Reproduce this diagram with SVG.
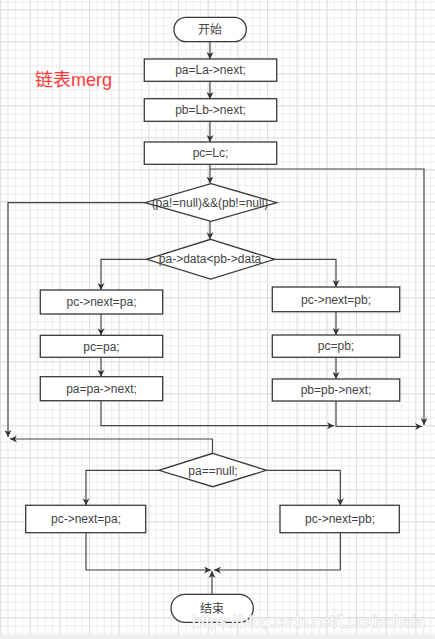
<svg xmlns="http://www.w3.org/2000/svg" width="435" height="639" viewBox="0 0 435 639">
<defs>
<pattern id="minor" x="0" y="1.3" width="7.417" height="8" patternUnits="userSpaceOnUse">
<path d="M0.5,0 V8 M0,0.5 H7.417" fill="none" stroke="#ececec" stroke-width="1"/>
</pattern>
<pattern id="major" x="0" y="9.3" width="29.67" height="32" patternUnits="userSpaceOnUse">
<path d="M0.5,0 V32 M0,0.5 H29.67" fill="none" stroke="#dedede" stroke-width="1"/>
</pattern>
<marker id="arr" viewBox="0 0 10 10" refX="10" refY="5" markerWidth="7" markerHeight="7" markerUnits="userSpaceOnUse" orient="auto">
<path d="M0,0 L10,5 L0,10 L3,5 z" fill="#333"/>
</marker>
<style>
.box{fill:#fff;stroke:#3a3a3a;stroke-width:1.3}
.t{font-family:"Liberation Sans","Noto Sans CJK SC",sans-serif;font-size:12px;fill:#444;text-anchor:middle}
.c{fill:none;stroke:#444;stroke-width:1.2;marker-end:url(#arr)}
</style>
</defs>
<rect width="435" height="639" fill="#fff"/>
<rect width="435" height="635" fill="url(#minor)"/>
<rect width="435" height="635" fill="url(#major)"/>
<rect y="635" width="435" height="4" fill="#f0f0f0"/>

<text x="35" y="86" font-family="'Liberation Sans','Noto Sans CJK SC',sans-serif" font-size="18" fill="#ff3b3b">链表merg</text>

<g id="connectors">
<path class="c" d="M210,42 V59"/>
<path class="c" d="M210,81 V99"/>
<path class="c" d="M210,121 V142"/>
<path class="c" d="M210,164 V183.5"/>
<path class="c" d="M210,169 H424 V425"/>
<path class="c" d="M210,221.3 V239.3"/>
<path class="c" d="M145.3,202.7 H8 V437"/>
<path class="c" d="M146.7,259.3 H101 V290"/>
<path class="c" d="M274.7,259.3 H336 V287"/>
<path class="c" d="M101,314 V335.3"/>
<path class="c" d="M101,357.3 V376.7"/>
<path class="c" d="M336,311.7 V335"/>
<path class="c" d="M336,357.3 V379"/>
<path class="c" d="M101,400.7 V425.7 H334"/>
<path class="c" d="M336,401 V426.5 H422"/>
<path class="c" d="M212.5,453.3 V439 H10"/>
<path class="c" d="M159,470.3 H86 V505.3"/>
<path class="c" d="M266.3,470.3 H340.3 V505.3"/>
<path class="c" d="M86,532.7 V570 H211"/>
<path class="c" d="M340.3,532.7 V570 H214"/>
<path class="c" d="M212,594.3 V571"/>
</g>

<g id="start">
<rect class="box" x="174" y="17.3" width="72.3" height="24.4" rx="12" ry="12"/>
<text class="t" x="210" y="33.5">开始</text>
</g>
<g id="n_pa">
<rect class="box" x="144.3" y="59" width="132.4" height="22.3"/>
<text class="t" x="210.5" y="74.3">pa=La-&gt;next;</text>
</g>
<g id="n_pb">
<rect class="box" x="144.3" y="98.7" width="132.4" height="22.6"/>
<text class="t" x="210.5" y="114.2">pb=Lb-&gt;next;</text>
</g>
<g id="n_pc">
<rect class="box" x="144.3" y="142" width="132.4" height="22.3"/>
<text class="t" x="210.5" y="157.3">pc=Lc;</text>
</g>
<g id="d_loop">
<polygon class="box" points="211,183.7 276.7,202.7 211,221.3 145.3,202.7"/>
<text class="t" x="210" y="206.8">(pa!=null)&amp;&amp;(pb!=null)</text>
</g>
<g id="d_cmp">
<polygon class="box" points="210.7,239.3 274.7,259.3 210.7,279 146.7,259.3"/>
<text class="t" x="210" y="263.4">pa-&gt;data&lt;pb-&gt;data</text>
</g>
<g id="l1">
<rect class="box" x="40.3" y="290" width="122.4" height="24"/>
<text class="t" x="101.5" y="306.2">pc-&gt;next=pa;</text>
</g>
<g id="l2">
<rect class="box" x="40.3" y="335.3" width="122.4" height="22"/>
<text class="t" x="101.5" y="350.5">pc=pa;</text>
</g>
<g id="l3">
<rect class="box" x="40.3" y="376.7" width="122.4" height="24"/>
<text class="t" x="101.5" y="392.9">pa=pa-&gt;next;</text>
</g>
<g id="r1">
<rect class="box" x="272.3" y="287" width="127.4" height="24.7"/>
<text class="t" x="336" y="303.5">pc-&gt;next=pb;</text>
</g>
<g id="r2">
<rect class="box" x="272.3" y="335" width="127.4" height="22.3"/>
<text class="t" x="336" y="350.3">pc=pb;</text>
</g>
<g id="r3">
<rect class="box" x="272.3" y="379" width="127.4" height="22"/>
<text class="t" x="336" y="394.2">pb=pb-&gt;next;</text>
</g>
<g id="d_null">
<polygon class="box" points="212.7,453.3 266.3,470.3 212.7,486.7 159,470.3"/>
<text class="t" x="213" y="474.5">pa==null;</text>
</g>
<g id="b1">
<rect class="box" x="25.7" y="505.3" width="120" height="27.4"/>
<text class="t" x="86" y="523.2">pc-&gt;next=pa;</text>
</g>
<g id="b2">
<rect class="box" x="280" y="505.3" width="119.3" height="27.4"/>
<text class="t" x="340" y="523.2">pc-&gt;next=pb;</text>
</g>
<g id="end">
<rect class="box" x="171" y="594.3" width="82.3" height="28" rx="14" ry="14"/>
<text class="t" x="212" y="612.5">结束</text>
</g>

<text x="192" y="627" font-family="'Liberation Sans',sans-serif" font-size="16" fill="#ffffff" stroke="#cccccc" stroke-width="0.8" paint-order="stroke" textLength="233">https://blog.csdn.net/Luoxiaobaia</text>
</svg>
